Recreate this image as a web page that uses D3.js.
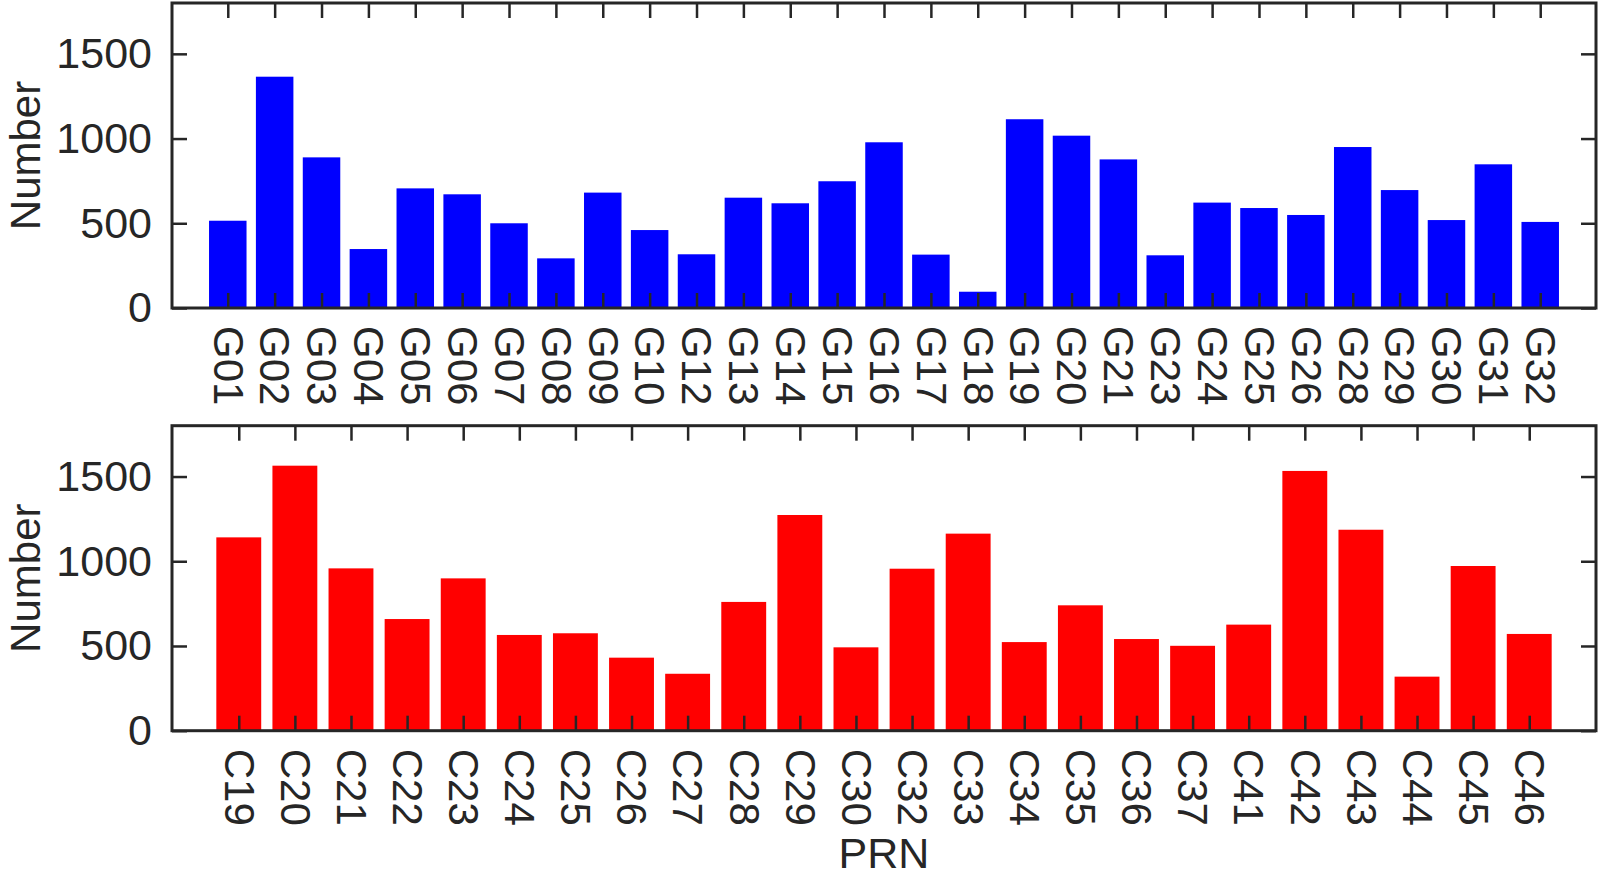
<!DOCTYPE html>
<html lang="en">
<head>
    <meta charset="UTF-8">
    <title> PRN counts </title>
    <script type="text/javascript" src="https://cdn.jsdelivr.net/npm/d3@7/dist/d3.min.js"></script>
    <style type="text/css">
        body { margin: 0; background: #fff; }
        svg text { font-family: "Liberation Sans", Arial, Helvetica, sans-serif; fill: #262626; }
    </style>
</head>
<body>
    <script type="text/javascript">
        //Width and height
        var w = 1600;
        var h = 880;

        //Data
        var gpsPrn = ["G01","G02","G03","G04","G05","G06","G07","G08","G09","G10",
            "G12","G13","G14","G15","G16","G17","G18","G19","G20","G21",
            "G23","G24","G25","G26","G28","G29","G30","G31","G32"];
        var gpsCount = [515, 1365, 889, 348, 706, 671, 500, 293, 681, 460,
            317, 651, 618, 748, 978, 315, 96, 1114, 1017, 877,
            311, 622, 590, 549, 950, 696, 519, 848, 508];

        var bdsPrn = ["C19","C20","C21","C22","C23","C24","C25","C26","C27","C28",
            "C29","C30","C32","C33","C34","C35","C36","C37","C41","C42",
            "C43","C44","C45","C46"];
        var bdsCount = [1141, 1564, 958, 659, 899, 565, 575, 431, 336, 760,
            1273, 492, 956, 1163, 523, 740, 541, 501, 626, 1533,
            1186, 319, 972, 571];

        var yTicks = [0, 500, 1000, 1500];
        var yMax = 1800;

        var svg = d3.select("body")
            .append("svg")
            .attr("width", w)
            .attr("height", h);

        //Draw one bar panel
        function drawPanel(labels, values, color, top, bottom) {
            var left = 172, right = 1596;
            var n = labels.length;
            var idx = d3.range(n);

            var xScale = d3.scaleLinear()
                .domain([-1.19, n - 1 + 1.19])
                .range([left, right]);

            var yScale = d3.scaleLinear()
                .domain([0, yMax])
                .range([bottom, top]);

            var g = svg.append("g");

            //Bars
            g.selectAll("rect.bar")
                .data(values)
                .enter()
                .append("rect")
                .attr("class", "bar")
                .attr("x", function(d, i) { return xScale(i - 0.4); })
                .attr("width", function(d, i) { return xScale(i + 0.4) - xScale(i - 0.4); })
                .attr("y", function(d) { return yScale(d); })
                .attr("height", function(d) { return yScale(0) - yScale(d); })
                .attr("fill", color);

            //Axes (ticks point inward)
            var bottomAxis = d3.axisBottom(xScale)
                .tickValues(idx)
                .tickSize(-15)
                .tickFormat(function(i) { return labels[i]; });
            var topAxis = d3.axisTop(xScale).tickValues(idx).tickSize(-15).tickFormat("");
            var leftAxis = d3.axisLeft(yScale).tickValues(yTicks).tickSize(-15).tickPadding(20)
                .tickFormat(d3.format("d"));
            var rightAxis = d3.axisRight(yScale).tickValues(yTicks).tickSize(-15).tickFormat("");

            var gb = g.append("g").attr("transform", "translate(0," + bottom + ")").call(bottomAxis);
            var gt = g.append("g").attr("transform", "translate(0," + top + ")").call(topAxis);
            var gl = g.append("g").attr("transform", "translate(" + left + ",0)").call(leftAxis);
            var gr = g.append("g").attr("transform", "translate(" + right + ",0)").call(rightAxis);

            [gb, gt, gl, gr].forEach(function(a) {
                a.select(".domain").remove();
                a.selectAll(".tick line").attr("stroke", "#262626").attr("stroke-width", 2.5);
            });

            gb.selectAll(".tick text")
                .attr("font-size", "42px")
                .attr("y", 0)
                .attr("x", 18)
                .attr("dy", "0.35em")
                .attr("text-anchor", "start")
                .attr("transform", "rotate(90)");

            gl.selectAll(".tick text")
                .attr("font-size", "43px");

            //Frame
            g.append("rect")
                .attr("x", left)
                .attr("y", top)
                .attr("width", right - left)
                .attr("height", bottom - top)
                .attr("fill", "none")
                .attr("stroke", "#262626")
                .attr("stroke-width", 3);

            //Y label
            g.append("text")
                .attr("transform", "translate(40," + (top + bottom) / 2 + ") rotate(-90)")
                .attr("text-anchor", "middle")
                .attr("font-size", "42px")
                .text("Number");
        }

        drawPanel(gpsPrn, gpsCount, "#0000ff", 3, 308);
        drawPanel(bdsPrn, bdsCount, "#ff0000", 425.7, 730.7);

        //X label
        svg.append("text")
            .attr("x", 884)
            .attr("y", 868)
            .attr("text-anchor", "middle")
            .attr("font-size", "43px")
            .text("PRN");
    </script>
</body>
</html>
